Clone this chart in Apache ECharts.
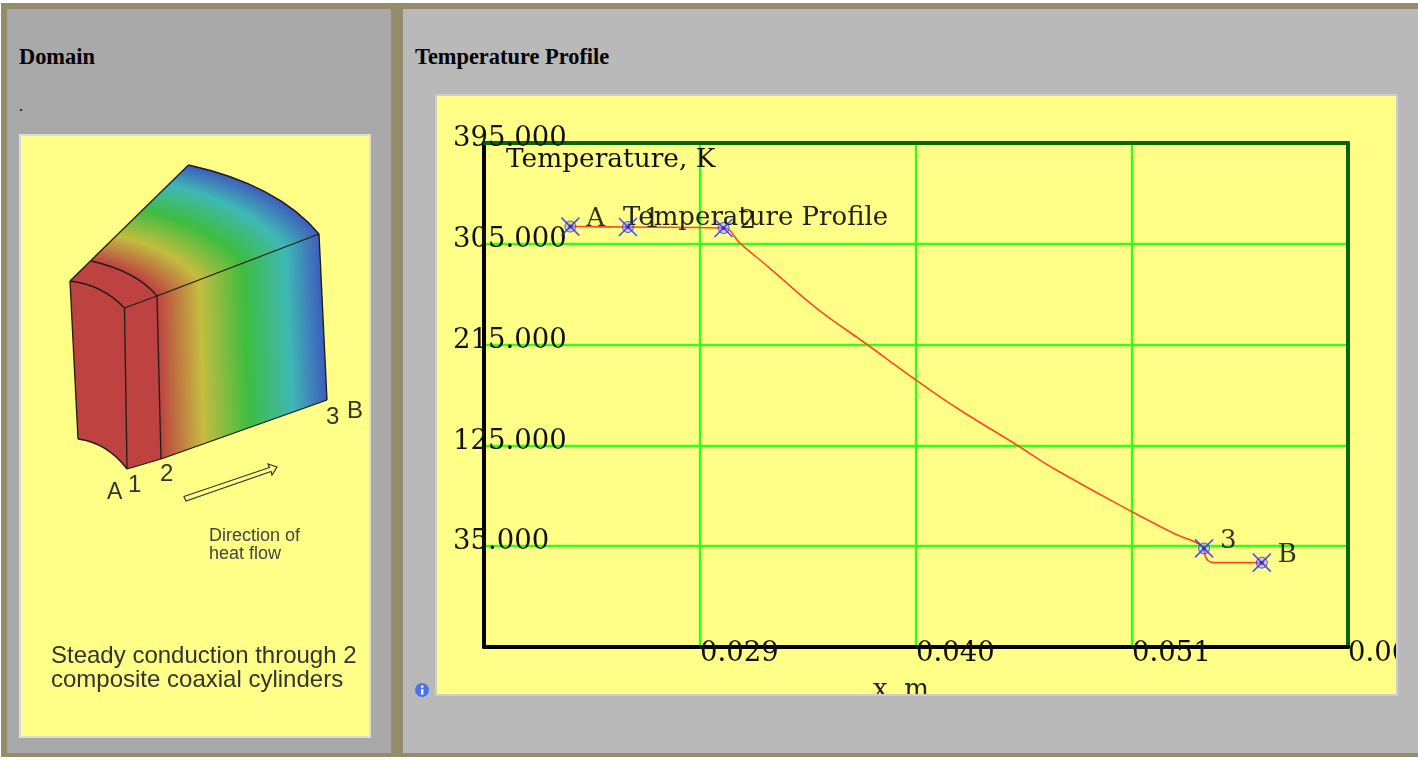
<!DOCTYPE html>
<html><head><meta charset="utf-8">
<style>
html,body{margin:0;padding:0;background:#fff;overflow:hidden}
#frame{position:absolute;left:1px;top:3px;width:1417px;height:754px;background:#958c6d}
.panel{position:absolute;top:9px;height:744px}
#lp{left:7px;width:384px;background:#a9a9a9}
#rp{left:403px;width:1015px;background:#b9b9b9}
.h{position:absolute;font:bold 22.4px "Liberation Serif";color:#000;line-height:26px}
#lbox,#rbox{position:absolute;box-sizing:content-box}
#lbox{left:21px;top:136px;width:348px;height:600px;border:2px solid #dcdcdc;margin:-2px}
#rbox{left:437px;top:96px;width:959px;height:598px;border:2px solid #cdcdcd;margin:-2px}
#lc,#rc{width:100%;height:100%;overflow:hidden;background:#ffff88}
</style></head><body>
<div id="frame"></div>
<div class="panel" id="lp"></div><div class="panel" id="rp"></div>
<div class="h" style="left:19px;top:44px">Domain</div>
<div class="h" style="left:19px;top:93px;font-size:16px;font-weight:normal">.</div>
<div class="h" style="left:415px;top:44px">Temperature Profile</div>
<div id="lbox"><div id="lc"></div></div>
<div id="rbox"><div id="rc"></div></div>
<svg style="position:absolute;left:415px;top:683px" width="14" height="14"><circle cx="7" cy="7" r="7" fill="#4a72f0"/><rect x="6" y="2.5" width="2.4" height="2.2" fill="#fff"/><rect x="6" y="6" width="2.4" height="5.6" fill="#fff"/></svg>
<script src="https://cdn.jsdelivr.net/npm/echarts@6/dist/echarts.min.js"></script>
<script>
// ---------- data ----------
const markerNames = ['A','1','2','3','B'];
const markerX = [0.0224,0.02533,0.0302,0.05467,0.05761];
const markerT = [320.4,320.0,319.1,33.0,20.3];
const curveX = [0.0224,0.02533,0.0302,0.03104,0.03256,0.03494,0.03749,0.04,0.04224,0.04513,0.04708,0.051,0.05309,0.05467,0.05472,0.05487,0.05523,0.05761];
const curveT = [320.4,320.0,319.1,305.4,283.1,247.4,215.3,183.4,156.6,125.4,103.7,65.8,46.8,33.0,27.1,22.1,20.3,20.3];
const xMin = 0.018, xMax = 0.062, xStep = 0.011;
const yMin = -55, yMax = 395, yStep = 90;
const xName = 'x, m', yName = 'Temperature, K', chartTitle = 'Temperature Profile';

// ---------- right chart ----------
const serif = '"DejaVu Serif"';
const rc = echarts.init(document.getElementById('rc'));
const pts = markerX.map((x,i)=>[x,markerT[i]]);
const blue = '#2b2bff';
const hiddenAxis = {splitLine:{show:false},axisTick:{show:false},axisLabel:{show:false},axisLine:{show:true,onZero:false,lineStyle:{color:'#0a6400',width:4}}};
rc.setOption({
  animation:false,
  backgroundColor:'#ffff88',
  title:{text:chartTitle,left:181,top:104,textStyle:{fontFamily:serif,fontWeight:'normal',fontSize:26,color:'#222'}},
  grid:{left:47,top:47,width:864,height:504,outerBoundsMode:'none'},
  xAxis:[{type:'value',min:xMin,max:xMax,interval:xStep,name:xName,nameLocation:'middle',nameGap:30,nameMoveOverlap:false,
    nameTextStyle:{fontFamily:serif,fontSize:26,color:'#222',padding:[0,30,0,0]},
    axisLine:{onZero:false,lineStyle:{color:'#000',width:4}},axisTick:{show:false},
    axisLabel:{showMinLabel:false,showMaxLabel:true,hideOverlap:false,align:'left',verticalAlign:'top',margin:-7,fontFamily:serif,fontSize:27.5,color:'#111',formatter:v=>v.toFixed(3)},
    splitLine:{show:true,showMinLine:false,showMaxLine:false,lineStyle:{color:'#30ff1e',width:2.4}}},
    Object.assign({type:'value',min:xMin,max:xMax,interval:xStep,position:'top'},hiddenAxis)],
  yAxis:[{type:'value',min:yMin,max:yMax,interval:yStep,name:yName,nameLocation:'end',nameGap:-30,nameMoveOverlap:false,
    nameTextStyle:{fontFamily:serif,fontSize:26.4,color:'#111',align:'left',padding:[0,0,0,22]},
    axisLine:{onZero:false,lineStyle:{color:'#000',width:4}},axisTick:{show:false},
    axisLabel:{showMinLabel:false,align:'left',verticalAlign:'bottom',lineHeight:8,margin:31,fontFamily:serif,fontSize:27.5,color:'#111',formatter:v=>v.toFixed(3)},
    splitLine:{show:true,showMinLine:false,showMaxLine:false,lineStyle:{color:'#30ff1e',width:2.4}}},
    Object.assign({type:'value',min:yMin,max:yMax,interval:yStep,position:'right'},hiddenAxis)],
  series:[
    {type:'line',data:curveX.map((x,i)=>[x,curveT[i]]),showSymbol:false,symbol:'none',smooth:0.4,lineStyle:{color:'#ff4826',width:1.6},z:3},
    {type:'scatter',data:pts,symbol:'circle',symbolSize:11,itemStyle:{color:'rgba(130,130,220,0.45)',borderColor:blue,borderWidth:1},z:4},
    {type:'scatter',data:pts,symbol:'circle',symbolSize:4,itemStyle:{color:'#2020d0'},z:5},
    {type:'scatter',data:pts,symbol:'path://M0 0L20 20M20 0L0 20',symbolSize:18,
      itemStyle:{color:'transparent',borderColor:blue,borderWidth:1.7},z:6,
      label:{show:true,position:'right',distance:6,offset:[0,-7],fontFamily:serif,fontSize:26,color:'#000',formatter:p=>markerNames[p.dataIndex]}}
  ]
});

// ---------- left illustration ----------
const lc = echarts.init(document.getElementById('lc'));
const C=[-9,359.6], ratio=1.974;
const inner0=[91,261], innerC=[136.2,271], inner1=[157,296];
const stops=[[0,[190,66,64]],[0.13,[192,128,64]],[0.26,[196,189,64]],[0.53,[63,189,64]],[0.79,[63,185,181]],[1,[63,93,189]]];
function colorAt(s){for(let i=1;i<stops.length;i++){if(s<=stops[i][0]){const a=stops[i-1],b=stops[i],t=(s-a[0])/(b[0]-a[0]);
  return 'rgb('+a[1].map((v,k)=>Math.round(v+(b[1][k]-v)*t)).join(',')+')';}}return 'rgb(63,93,189)';}
function bez(p0,c,p1,t){const u=1-t;return [u*u*p0[0]+2*u*t*c[0]+t*t*p1[0],u*u*p0[1]+2*u*t*c[1]+t*t*p1[1]];}
const N=110, g=[];
const poly=(points,fill,z)=>({type:'polygon',z:z||1,shape:{points},style:{fill}});
for(let i=0;i<N;i++){
  const s0=i/N,s1=Math.min(1,(i+2.5)/N),col=colorAt((i+.5)/N),r0=1+(ratio-1)*s0,r1=1+(ratio-1)*s1,a=[],b=[];
  for(let k=0;k<=24;k++){const q=bez(inner0,innerC,inner1,k/24);
    a.push([C[0]+(q[0]-C[0])*r0,C[1]+(q[1]-C[1])*r0]);
    b.unshift([C[0]+(q[0]-C[0])*r1,C[1]+(q[1]-C[1])*r1]);}
  g.push(poly(a.concat(b),col));
  const lerp=(p,q,t)=>[p[0]+(q[0]-p[0])*t,p[1]+(q[1]-p[1])*t];
  const T0=[157,296],T1=[319,234],B0=[161,459],B1=[327,400];
  g.push(poly([lerp(T0,T1,s0),lerp(T0,T1,s1),lerp(B0,B1,s1),lerp(B0,B1,s0)],col));
}
const red='#be4240';
const sample=(p0,c,p1)=>{const r=[];for(let k=0;k<=24;k++)r.push(bez(p0,c,p1,k/24));return r;};
const frontTop=sample([70,281],[102,284.5],[124.5,308]);
const frontBot=sample([78,439],[107.5,443],[127,469]);
g.push(poly(frontTop.concat(frontBot.slice().reverse()),red,2));
g.push(poly([[124.5,308],[157,296],[161,459],[127,469]],red,2));
g.push(poly(frontTop.slice().reverse().concat(sample(inner0,innerC,inner1)),red,2));
const ink={stroke:'#1c1c1c',lineWidth:1.3};
const ln=(a,b)=>({type:'line',z:5,shape:{x1:a[0],y1:a[1],x2:b[0],y2:b[1]},style:ink});
const cv=(a,c,b)=>({type:'bezierCurve',z:5,shape:{x1:a[0],y1:a[1],cpx1:c[0],cpy1:c[1],x2:b[0],y2:b[1]},style:Object.assign({fill:null},ink)});
g.push(ln([70,281],[188.5,165]),ln([157,296],[319,234]),ln([319,234],[327,400]),ln([161,459],[327,400]),ln([127,469],[161,459]),
  ln([124.5,308],[157,296]),ln([124.5,308],[127,469]),ln([157,296],[161,459]),ln([70,281],[78,439]),
  cv([70,281],[102,284.5],[124.5,308]),cv([78,439],[107.5,443],[127,469]),cv(inner0,innerC,inner1),cv([188.5,165],[277.6,184.7],[319,234]));
g.push({type:'polygon',z:5,shape:{points:[[184,496.5],[269.5,467.5],[268,464],[277,467],[272,475],[271,471.5],[186,501]]},style:{fill:'#ffff88',stroke:'#333',lineWidth:1.2}});
const txt=(text,x,y,size,fill)=>({type:'text',z:6,x,y,style:{text,x:0,y:0,fill:fill||'#333',font:size+'px "Liberation Sans"',verticalAlign:'middle'}});
g.push(txt('A',107,493,23),txt('1',128,485,24),txt('2',160,474,24),txt('3',326,417,24),txt('B',347,411,24),
  txt('Direction of',209,536,18,'#444'),txt('heat flow',209,554,18,'#444'),
  txt('Steady conduction through 2',51,656,24,'#333'),txt('composite coaxial cylinders',51,680,24,'#333'));
lc.setOption({animation:false,backgroundColor:'#ffff88',graphic:[{type:'group',x:-21,y:-136,children:g}]});
</script>
</body></html>
